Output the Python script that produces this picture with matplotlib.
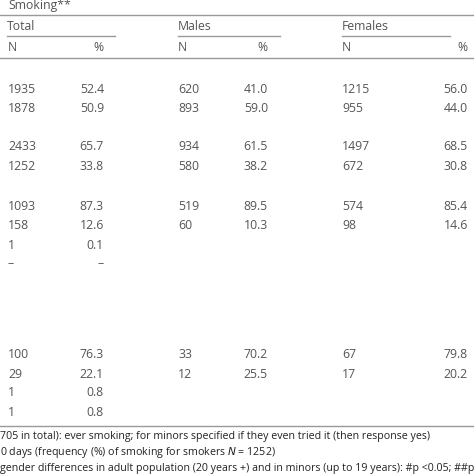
import matplotlib
matplotlib.use("Agg")
import matplotlib.pyplot as plt

total_n = ["1935","1878","2433","1252","1093","158","1","–","100","29","1","1"]
total_p = ["52.4","50.9","65.7","33.8","87.3","12.6","0.1","–","76.3","22.1","0.8","0.8"]
male_n = ["620","893","934","580","519","60","","","33","12","",""]
male_p = ["41.0","59.0","61.5","38.2","89.5","10.3","","","70.2","25.5","",""]
fem_n = ["1215","955","1497","672","574","98","","","67","17","",""]
fem_p = ["56.0","44.0","68.5","30.8","85.4","14.6","","","79.8","20.2","",""]
row_y = [89,108,147,166,206,225,245,264,355,374,393,413]
foot = ["705 in total): ever smoking; for minors specified if they even tried it (then response yes)",
        "0 days (frequency (%) of smoking for smokers $N$ = 1252)",
        "gender differences in adult population (20 years +) and in minors (up to 19 years): #p <0.05; ##p <0.01"]

fig = plt.figure(figsize=(4.74,4.74), dpi=100)
ax = fig.add_axes([0,0,1,1]); ax.set_xlim(0,474); ax.set_ylim(474,0); ax.axis('off')
c = '#555555'; fs = 8.8
kw = dict(color=c, fontsize=fs, va='center', family='Open Sans')
ax.text(8, 5, "Smoking**", **kw)
ax.plot([0,474],[15,15], color='#999', lw=1)
for x0, x1, lab in [(7,115,"Total"),(178,280,"Males"),(342,450,"Females")]:
    ax.text(x0, 26, lab, **kw)
    ax.plot([x0,x1],[36,36], color='#999', lw=1)
for xn, xp in [(8,104),(178,268),(342,468)]:
    ax.text(xn, 47, "N", **kw); ax.text(xp, 47, "%", ha='right', **kw)
ax.plot([0,474],[58,58], color='#999', lw=1)
for cols, (xn, xp) in [((total_n,total_p),(8,104)),((male_n,male_p),(178,268)),((fem_n,fem_p),(342,468))]:
    for n, p, y in zip(cols[0], cols[1], row_y):
        ax.text(xn, y, n, **kw); ax.text(xp, y, p, ha='right', **kw)
ax.plot([0,474],[426,426], color='#999', lw=1)
for i, t in enumerate(foot):
    ax.text(0, 436+16.5*i, t, color='#222', fontsize=7.7, va='center', family='Open Sans')
fig.savefig("out.png", dpi=100)
